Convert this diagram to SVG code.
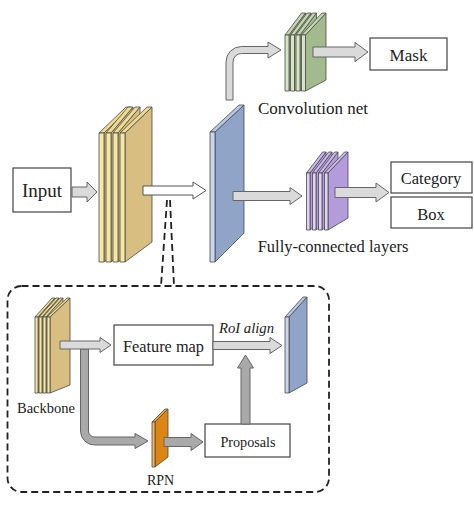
<svg xmlns="http://www.w3.org/2000/svg" width="474" height="521" viewBox="0 0 474 521">
<style>
  .bg{fill:#ffffff}
  .box{fill:#ffffff;stroke:#444;stroke-width:1.2}
  .t{font-family:"Liberation Serif","Times New Roman",serif;fill:#222}
  .sl{stroke:#4a4a4a;stroke-width:0.8;stroke-linejoin:round}
  .ay .f{fill:#f6e7a4}.ay .p{fill:#eedb92}.ay .s{fill:#d8be80}
  .ab .f{fill:#c8d6f0}.ab .p{fill:#b6c7e8}.ab .s{fill:#8fa4c6}
  .ag .f{fill:#d7e5c7}.ag .p{fill:#c3d7ae}.ag .s{fill:#a3ba8f}
  .ap .f{fill:#e0d3f4}.ap .p{fill:#cbb8ec}.ap .s{fill:#b39bdc}
  .ao .f{fill:#f4b25a}.ao .p{fill:#eda040}.ao .s{fill:#dc860f}
  .arL{fill:#dadada;stroke:#666;stroke-width:1;stroke-linejoin:miter}
  .arM{fill:#a9a9a9;stroke:#666;stroke-width:1;stroke-linejoin:miter}
  .arW{fill:#ffffff;stroke:#555;stroke-width:1;stroke-linejoin:miter}
  .dash{fill:none;stroke:#222;stroke-width:1.8;stroke-dasharray:7 4}
</style>
<rect class="bg" x="0" y="0" width="474" height="521"/>

<g id="input">
  <rect class="box" x="13" y="168" width="58" height="44"/>
  <text class="t" x="42" y="197" font-size="19" text-anchor="middle">Input</text>
</g>

<g id="backbone-stack" class="ay sl">
  <polygon class="s" points="104,133 126,107 126,242 104,262"/>
  <polygon class="p" points="99,133 126,107 131,107 104,133"/>
  <polygon class="f" points="99,133 104,133 104,262 99,262"/>
  <polygon class="s" points="111,133 133,107 133,242 111,262"/>
  <polygon class="p" points="106,133 128,107 133,107 111,133"/>
  <polygon class="f" points="106,133 111,133 111,262 106,262"/>
  <polygon class="s" points="118,133 140,107 140,242 118,262"/>
  <polygon class="p" points="113,133 135,107 140,107 118,133"/>
  <polygon class="f" points="113,133 118,133 118,262 113,262"/>
  <polygon class="s" points="125,133 152,107 152,242 125,262"/>
  <polygon class="p" points="120,133 147,107 152,107 125,133"/>
  <polygon class="f" points="120,133 125,133 125,262 120,262"/>
</g>

<g id="feature-panel" class="ab sl">
  <polygon class="s" points="215,132 244,105 244,233 215,262"/>
  <polygon class="p" points="210,132 239,105 244,105 215,132"/>
  <polygon class="f" points="210,132 215,132 215,262 210,262"/>
</g>

<g id="conv-stack" class="ag sl">
  <polygon class="s" points="289,35 305.5,13 305.5,80 289,91"/>
  <polygon class="p" points="285,35 301.5,13 305.5,13 289,35"/>
  <polygon class="f" points="285,35 289,35 289,91 285,91"/>
  <polygon class="s" points="294.5,35 311,13 311,80 294.5,91"/>
  <polygon class="p" points="290.5,35 307,13 311,13 294.5,35"/>
  <polygon class="f" points="290.5,35 294.5,35 294.5,91 290.5,91"/>
  <polygon class="s" points="300,35 316.5,13 316.5,80 300,91"/>
  <polygon class="p" points="296,35 312.5,13 316.5,13 300,35"/>
  <polygon class="f" points="296,35 300,35 300,91 296,91"/>
  <polygon class="s" points="305.5,35 326,13 326,80 305.5,91"/>
  <polygon class="p" points="301.5,35 322,13 326,13 305.5,35"/>
  <polygon class="f" points="301.5,35 305.5,35 305.5,91 301.5,91"/>
  <text class="t" x="313" y="114" font-size="17" text-anchor="middle" stroke="none">Convolution net</text>
</g>

<g id="fc-stack" class="ap sl">
  <polygon class="s" points="310,173 326,152 326,218 310,230"/>
  <polygon class="p" points="306.5,173 322.5,152 326,152 310,173"/>
  <polygon class="f" points="306.5,173 310,173 310,230 306.5,230"/>
  <polygon class="s" points="316,173 332,152 332,218 316,230"/>
  <polygon class="p" points="312.5,173 328.5,152 332,152 316,173"/>
  <polygon class="f" points="312.5,173 316,173 316,230 312.5,230"/>
  <polygon class="s" points="322,173 338,152 338,218 322,230"/>
  <polygon class="p" points="318.5,173 334.5,152 338,152 322,173"/>
  <polygon class="f" points="318.5,173 322,173 322,230 318.5,230"/>
  <polygon class="s" points="328,173 348,152 348,218 328,230"/>
  <polygon class="p" points="324.5,173 344.5,152 348,152 328,173"/>
  <polygon class="f" points="324.5,173 328,173 328,230 324.5,230"/>
  <text class="t" x="333" y="252" font-size="16.5" text-anchor="middle" stroke="none">Fully-connected layers</text>
</g>

<g id="mask">
  <rect class="box" x="370" y="38" width="77" height="32"/>
  <text class="t" x="408.5" y="61" font-size="17" text-anchor="middle">Mask</text>
</g>
<g id="category">
  <rect class="box" x="391" y="162" width="81" height="31"/>
  <text class="t" x="431" y="184" font-size="16.5" text-anchor="middle">Category</text>
</g>
<g id="box">
  <rect class="box" x="391" y="197" width="81" height="31"/>
  <text class="t" x="431" y="220" font-size="16.5" text-anchor="middle">Box</text>
</g>

<g id="detail">
  <rect class="dash" x="7.5" y="286" width="321.5" height="206" rx="14" ry="14"/>
  <g id="backbone-small" class="ay sl">
    <polygon class="s" points="38,317 55,298 55,385 38,393"/>
    <polygon class="p" points="35,317 52,298 55,298 38,317"/>
    <polygon class="f" points="35,317 38,317 38,393 35,393"/>
    <polygon class="s" points="42,317 59,298 59,385 42,393"/>
    <polygon class="p" points="39,317 56,298 59,298 42,317"/>
    <polygon class="f" points="39,317 42,317 42,393 39,393"/>
    <polygon class="s" points="46,317 63,298 63,385 46,393"/>
    <polygon class="p" points="43,317 60,298 63,298 46,317"/>
    <polygon class="f" points="43,317 46,317 46,393 43,393"/>
    <polygon class="s" points="50,317 70,298 70,385 50,393"/>
    <polygon class="p" points="47,317 67,298 70,298 50,317"/>
    <polygon class="f" points="47,317 50,317 50,393 47,393"/>
    <text class="t" x="46" y="413" font-size="14.5" text-anchor="middle" stroke="none">Backbone</text>
  </g>
  <g id="feature-map">
    <rect class="box" x="114" y="325" width="99" height="40"/>
    <text class="t" x="163.5" y="351.5" font-size="16.3" text-anchor="middle">Feature map</text>
  </g>
  <g id="rpn" class="ao sl">
    <polygon class="s" points="155,422 168,409 168,457 155,467"/>
    <polygon class="p" points="152,422 165,409 168,409 155,422"/>
    <polygon class="f" points="152,422 155,422 155,467 152,467"/>
    <text class="t" x="160.5" y="485" font-size="14" text-anchor="middle" stroke="none">RPN</text>
  </g>
  <g id="proposals">
    <rect class="box" x="205" y="424" width="85" height="33"/>
    <text class="t" x="248" y="446.5" font-size="14.2" text-anchor="middle">Proposals</text>
  </g>
  <g id="roi-panel" class="ab sl">
    <polygon class="s" points="289,317 307,297 307,383 289,393"/>
    <polygon class="p" points="285,317 303,297 307,297 289,317"/>
    <polygon class="f" points="285,317 289,317 289,393 285,393"/>
  </g>
</g>

<g id="connectors">
  <path class="arL" d="M72,187 L87,187 L87,182 L97,192 L87,202 L87,197 L72,197 Z"/>
  <path class="arW" d="M143,186 L193,186 L193,182 L206,190.5 L193,199 L193,195 L143,195 Z"/>
  <path class="arL" d="M233,191.5 L290,191.5 L290,187.5 L302,196 L290,204.5 L290,200.5 L233,200.5 Z"/>
  <path class="arL" d="M335,187.5 L376,187.5 L376,183 L389,192.5 L376,202 L376,197.5 L335,197.5 Z"/>
  <path class="arL" d="M313,47 L355,47 L355,42.5 L368,52 L355,61.5 L355,57 L313,57 Z"/>
  <path class="arL" d="M226,100 L226,62 A15.5,15.5 0 0 1 241.5,46.5 L268,46.5 L268,42 L281,50 L268,58 L268,53.5 L241.5,53.5 A8.5,8.5 0 0 0 233,62 L233,100 Z"/>
  <line class="dash" x1="167" y1="200" x2="161" y2="286" stroke-dasharray="6 4"/>
  <line class="dash" x1="170" y1="200" x2="174" y2="286" stroke-dasharray="6 4"/>
  <path class="arM" d="M80.5,349 L80.5,431 A14,14 0 0 0 94.5,445 L135,445 L135,448.5 L148,441 L135,433.5 L135,437 L94.5,437 A6,6 0 0 1 88.5,431 L88.5,349 Z"/>
  <path class="arL" d="M60,341 L100,341 L100,337.5 L111,345 L100,352.5 L100,349 L60,349 Z"/>
  <path class="arL" d="M213,341.5 L270,341.5 L270,337.5 L282,345.5 L270,353.5 L270,349.5 L213,349.5 Z"/>
  <text class="t" x="246.5" y="333" font-size="14.7" font-style="italic" text-anchor="middle">RoI align</text>
  <path class="arM" d="M164,437.5 L191,437.5 L191,433.5 L203,442 L191,450.5 L191,446.5 L164,446.5 Z"/>
  <path class="arM" d="M241,424 L241,368 L237.5,368 L245.5,355 L253.5,368 L250,368 L250,424 Z"/>
</g>
</svg>
